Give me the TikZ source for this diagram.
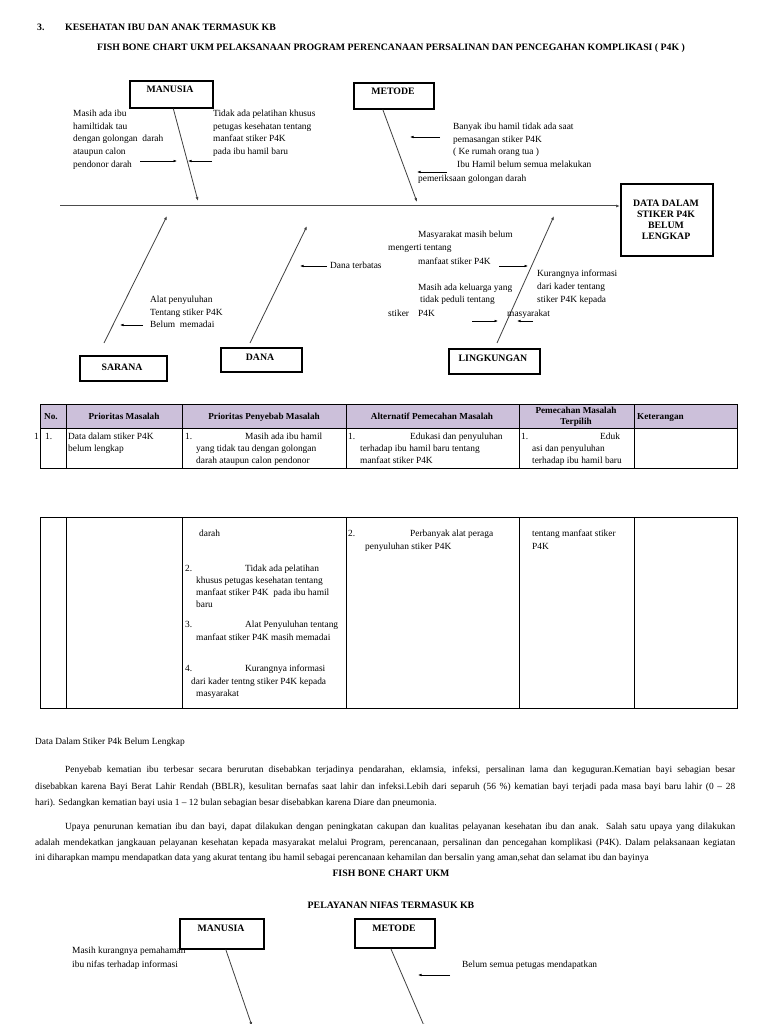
\documentclass[tikz,border=0pt]{standalone}
\usepackage{fontspec}
\setmainfont{Liberation Serif}
\usetikzlibrary{arrows.meta}
\definecolor{hdr}{RGB}{204,192,218}
\newcommand\tl[4]{\node[t] (#1) at (#2,#3) {#4};}
\newcommand\tlb[4]{\node[tb] (#1) at (#2,#3) {#4};}
\begin{document}
\begin{tikzpicture}[x=1pt,y=-1pt,
  t/.style={anchor=base west,inner sep=0pt,font=\fontsize{9.4}{11}\selectfont},
  tc/.style={anchor=base,inner sep=0pt,font=\fontsize{9.4}{11}\selectfont},
  tb/.style={anchor=base west,inner sep=0pt,font=\bfseries\fontsize{9.8}{11}\selectfont},
  tbc/.style={anchor=base,inner sep=0pt,font=\bfseries\fontsize{9.8}{11}\selectfont},
  thd/.style={anchor=base,inner sep=0pt,font=\bfseries\fontsize{9.2}{11}\selectfont},
  cbox/.style={draw,line width=1.6pt,inner sep=0pt,anchor=north west},
  bone/.style={draw=black!75,line width=0.8pt,-{Latex[length=4pt,width=3pt]}},
  sarrow/.style={draw,line width=0.6pt,-{Latex[length=3.5pt,width=2.6pt]}},
  tab/.style={line width=0.8pt}
]
\useasboundingbox (0,0) rectangle (768,1024);
\clip (0,0) rectangle (768,1024);
\fill[white] (0,0) rectangle (768,1024);

% ---------- header ----------
\tlb{h1}{37}{31}{3.}
\tlb{h2}{65}{31}{KESEHATAN IBU DAN ANAK TERMASUK KB}
\node[tbc] (title) at (391,51) {FISH BONE CHART UKM PELAKSANAAN PROGRAM PERENCANAAN PERSALINAN DAN PENCEGAHAN KOMPLIKASI ( P4K )};

% ---------- fishbone 1 : boxes ----------
\node[cbox,minimum width=83pt,minimum height=27pt] (man) at (129,80) {};
\node[tbc] (manL) at (170,93) {MANUSIA};
\node[cbox,minimum width=80pt,minimum height=26pt] (met) at (353,82) {};
\node[tbc] (metL) at (393,95) {METODE};
\node[cbox,minimum width=87pt,minimum height=25pt] (sar) at (79,355) {};
\node[tbc] (sarL) at (122,370) {SARANA};
\node[cbox,minimum width=81pt,minimum height=24pt] (dan) at (220,347) {};
\node[tbc] (danL) at (260,360) {DANA};
\node[cbox,minimum width=91pt,minimum height=25pt] (lin) at (448,348) {};
\node[tbc] (linL) at (493,361) {LINGKUNGAN};
\node[cbox,minimum width=92pt,minimum height=72pt] (data) at (620,183) {};
\node[tbc] (d1) at (666,206.5) {DATA DALAM};
\node[tbc] (d2) at (666,217.5) {STIKER P4K};
\node[tbc] (d3) at (666,228.5) {BELUM};
\node[tbc] (d4) at (666,239.5) {LENGKAP};

% spine
\coordinate (sp0) at (60,206);
\draw[draw=black!70,line width=1pt,-{Latex[length=4pt,width=3pt]}] (sp0) -- (sp0 -| data.west);

% bones
\coordinate (manE) at (198,201);
\coordinate (metE) at (417,202);
\coordinate (sarS) at (104,343); \coordinate (sarE) at (167,216);
\coordinate (danS) at (250,343); \coordinate (danE) at (307,226);
\coordinate (linS) at (497,343); \coordinate (linE) at (554,216);
\draw[bone] ([xshift=2pt]man.south) -- (manE);
\draw[bone] ([xshift=-11pt]met.south) -- (metE);
\draw[bone] (sarS) -- (sarE);
\draw[bone] (danS) -- (danE);
\draw[bone] (linS) -- (linE);

% MANUSIA texts
\tl{m1}{73}{117}{Masih ada ibu}
\tl{m2}{73}{129.5}{hamiltidak tau}
\tl{m3}{73}{142}{dengan golongan\ \ darah}
\tl{m4}{73}{155}{ataupun calon}
\tl{m5}{73}{168}{pendonor darah}
\tl{m6}{213}{117}{Tidak ada pelatihan khusus}
\tl{m7}{213}{130}{petugas kesehatan tentang}
\tl{m8}{213}{142}{manfaat stiker P4K}
\tl{m9}{213}{155}{pada ibu hamil baru}
\coordinate (ma1) at (140,161); \coordinate (ma1e) at (177,161);
\coordinate (ma2) at (212,161); \coordinate (ma2e) at (188,161);
\draw[sarrow] (ma1) -- (ma1e);
\draw[sarrow] (ma2) -- (ma2e);

% METODE texts
\tl{e1}{453}{130}{Banyak ibu hamil tidak ada saat}
\tl{e2}{453}{143}{pemasangan stiker P4K}
\tl{e3}{453}{155}{( Ke rumah orang tua )}
\tl{e4}{457}{168}{Ibu Hamil belum semua melakukan}
\tl{e5}{418}{182}{pemeriksaan golongan darah}
\coordinate (ea1) at (440,137); \coordinate (ea1e) at (410,137);
\coordinate (ea2) at (447,172); \coordinate (ea2e) at (417,172);
\draw[sarrow] (ea1) -- (ea1e);
\draw[sarrow] (ea2) -- (ea2e);

% SARANA texts
\tl{s1}{150}{302}{Alat penyuluhan}
\tl{s2}{150}{315}{Tentang stiker P4K}
\tl{s3}{150}{327}{Belum\ \ memadai}
\coordinate (sa1) at (143,325); \coordinate (sa1e) at (120,325);
\draw[sarrow] (sa1) -- (sa1e);

% DANA texts
\tl{n1}{330}{268}{Dana terbatas}
\coordinate (na1) at (327,266); \coordinate (na1e) at (300,266);
\draw[sarrow] (na1) -- (na1e);

% LINGKUNGAN texts
\tl{l1}{418}{237}{Masyarakat masih belum}
\tl{l2}{388}{251}{mengerti tentang}
\tl{l3}{418}{264}{manfaat stiker P4K}
\tl{l4}{537}{276}{Kurangnya informasi}
\tl{l5}{537}{289}{dari kader tentang}
\tl{l6}{537}{302}{stiker P4K kepada}
\tl{l7}{418}{290}{Masih ada keluarga yang}
\tl{l8}{420}{302}{tidak peduli tentang}
\tl{l9}{388}{316}{stiker}
\tl{l10}{418}{316}{P4K}
\tl{l11}{507}{316}{masyarakat}
\coordinate (la1) at (499,266); \coordinate (la1e) at (528,266);
\coordinate (la2) at (472,321); \coordinate (la2e) at (498,321);
\coordinate (la3) at (533,321); \coordinate (la3e) at (517,321);
\draw[sarrow] (la1) -- (la1e);
\draw[sarrow] (la2) -- (la2e);
\draw[sarrow] (la3) -- (la3e);

% ---------- table part 1 ----------
\fill[hdr] (40,404) rectangle (737,428);
\draw[tab] (40,404) rectangle (737,468);
\draw[tab] (40,428) -- (737,428);
\foreach \cx in {66,182,346,519,634} \draw[tab] (\cx,404) -- (\cx,468);
\node[thd,anchor=base west] (th1) at (44,419) {No.};
\node[thd] (th2) at (124,419) {Prioritas Masalah};
\node[thd] (th3) at (264,419) {Prioritas Penyebab Masalah};
\node[thd] (th4) at (432,419) {Alternatif Pemecahan Masalah};
\node[thd] (th5a) at (576,413) {Pemecahan Masalah};
\node[thd] (th5b) at (576,424) {Terpilih};
\node[thd,anchor=base west] (th6) at (637,419) {Keterangan};

\tl{r0}{34}{439}{1}
\tl{r1}{45}{439}{1.}
\tl{r2}{68}{439}{Data dalam stiker P4K}
\tl{r3}{68}{451}{belum lengkap}
\tl{r4}{185}{439}{1.}
\tl{r5}{245}{439}{Masih ada ibu hamil}
\tl{r6}{196}{451}{yang tidak tau dengan golongan}
\tl{r7}{196}{463}{darah ataupun calon pendonor}
\tl{r8}{348}{439}{1.}
\tl{r9}{410}{439}{Edukasi dan penyuluhan}
\tl{r10}{360}{451}{terhadap ibu hamil baru tentang}
\tl{r11}{360}{463}{manfaat stiker P4K}
\tl{r12}{521}{439}{1.}
\tl{r13}{600}{439}{Eduk}
\tl{r14}{532}{451}{asi dan penyuluhan}
\tl{r15}{532}{463}{terhadap ibu hamil baru}

% ---------- table part 2 ----------
\draw[tab] (40,517) rectangle (737,708);
\foreach \cx in {66,182,346,519,634} \draw[tab] (\cx,517) -- (\cx,708);
\tl{q1}{199}{536}{darah}
\tl{q2}{185}{571}{2.}
\tl{q3}{245}{571}{Tidak ada pelatihan}
\tl{q4}{196}{583}{khusus petugas kesehatan tentang}
\tl{q5}{196}{595}{manfaat stiker P4K\ \ pada ibu hamil}
\tl{q6}{196}{607}{baru}
\tl{q7}{185}{627}{3.}
\tl{q8}{245}{627}{Alat Penyuluhan tentang}
\tl{q9}{196}{640}{manfaat stiker P4K masih memadai}
\tl{q10}{185}{671}{4.}
\tl{q11}{245}{671}{Kurangnya informasi}
\tl{q12}{191}{684}{dari kader tentng stiker P4K kepada}
\tl{q13}{196}{696}{masyarakat}
\tl{q14}{348}{536}{2.}
\tl{q15}{410}{536}{Perbanyak alat peraga}
\tl{q16}{365}{549}{penyuluhan stiker P4K}
\tl{q17}{532}{536}{tentang manfaat stiker}
\tl{q18}{532}{549}{P4K}

% ---------- paragraphs ----------
\tl{p0}{35}{744}{Data Dalam Stiker P4k Belum Lengkap}
\tl{p1}{65}{772}{\makebox[670pt][s]{Penyebab kematian ibu terbesar secara berurutan disebabkan terjadinya pendarahan, eklamsia, infeksi, persalinan lama dan keguguran.Kematian bayi sebagian besar}}
\tl{p2}{35}{789}{\makebox[700pt][s]{disebabkan karena Bayi Berat Lahir Rendah (BBLR), kesulitan bernafas saat lahir dan infeksi.Lebih dari separuh (56 \%) kematian bayi terjadi pada masa bayi baru lahir (0 – 28}}
\tl{p3}{35}{805}{hari). Sedangkan kematian bayi usia 1 – 12 bulan sebagian besar disebabkan karena Diare dan pneumonia.}
\tl{p4}{65}{829}{\makebox[670pt][s]{Upaya penurunan kematian ibu dan bayi, dapat dilakukan dengan peningkatan cakupan dan kualitas pelayanan kesehatan ibu dan anak. Salah satu upaya yang dilakukan}}
\tl{p5}{35}{845}{\makebox[700pt][s]{adalah mendekatkan jangkauan pelayanan kesehatan kepada masyarakat melalui Program, perencanaan, persalinan dan pencegahan komplikasi (P4K). Dalam pelaksanaan kegiatan}}
\tl{p6}{35}{860}{ini diharapkan mampu mendapatkan data yang akurat tentang ibu hamil sebagai perencanaan kehamilan dan bersalin yang aman,sehat dan selamat ibu dan bayinya}

% ---------- fishbone 2 ----------
\node[tbc] (t2a) at (391,876) {FISH BONE CHART UKM};
\node[tbc] (t2b) at (391,908) {PELAYANAN NIFAS TERMASUK KB};
\node[cbox,minimum width=84pt,minimum height=30pt] (man2) at (179,918) {};
\node[tbc] (man2L) at (221,931) {MANUSIA};
\node[cbox,minimum width=80pt,minimum height=29pt] (met2) at (354,918) {};
\node[tbc] (met2L) at (394,931) {METODE};
\tl{u1}{72}{953}{Masih kurangnya pemahaman}
\tl{u2}{72}{967}{ibu nifas terhadap informasi}
\tl{u3}{462}{967}{Belum semua petugas mendapatkan}
\coordinate (ua1) at (450,975); \coordinate (ua1e) at (418,975);
\draw[sarrow] (ua1) -- (ua1e);
\coordinate (man2E) at (252,1026);
\coordinate (met2E) at (425,1028);
\draw[bone] ([xshift=4pt]man2.south) -- (man2E);
\draw[bone] ([xshift=-4pt]met2.south) -- (met2E);
\end{tikzpicture}
\end{document}
